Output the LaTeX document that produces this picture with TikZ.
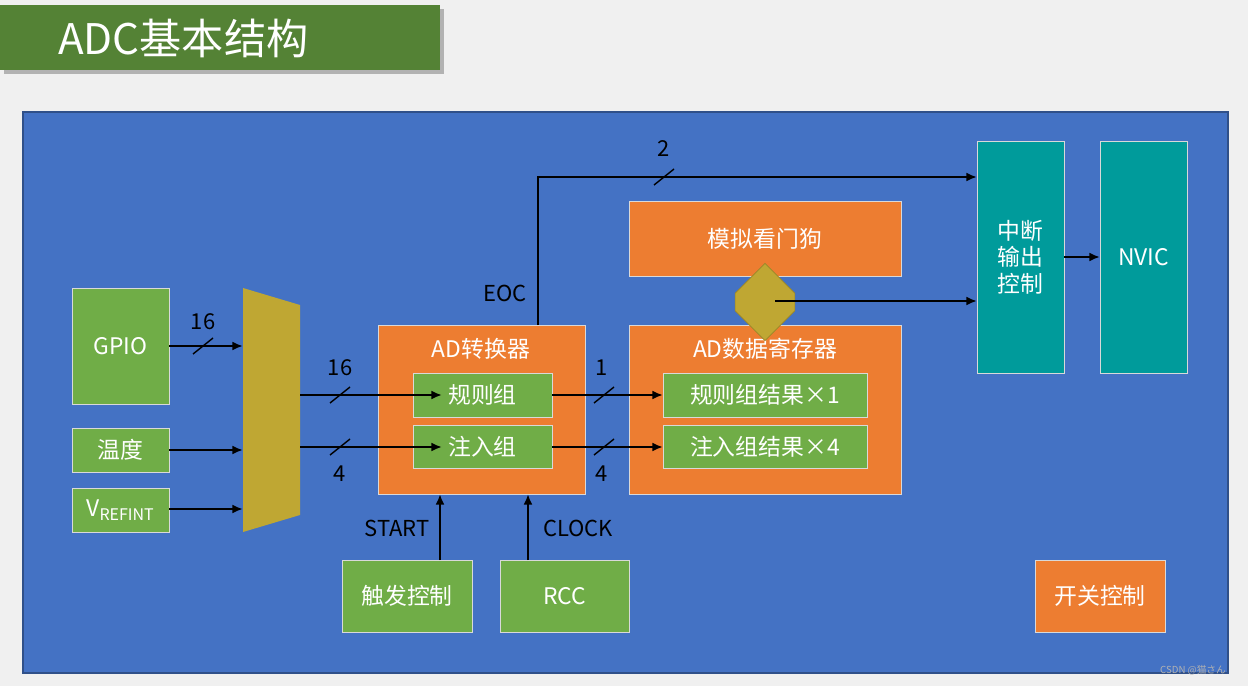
\documentclass[tikz,border=0pt]{standalone}
\usepackage{fontspec}
\setmainfont{Noto Sans CJK SC}
\usetikzlibrary{arrows.meta,shapes.arrows}
\definecolor{bg}{HTML}{F0F0F0}
\definecolor{panel}{HTML}{4472C4}
\definecolor{gr}{HTML}{70AD47}
\definecolor{dgr}{HTML}{548235}
\definecolor{org}{HTML}{ED7D31}
\definecolor{gold}{HTML}{BFA733}
\definecolor{teal}{HTML}{009B9B}
\begin{document}
\begin{tikzpicture}[x=0.02cm,y=-0.02cm,
 box/.style={draw=white!70!gray,line width=0.4pt,text=white,font=\fontsize{13}{15}\selectfont},
 arr/.style={-{Latex[length=6pt,width=5pt]},line width=1.4pt,black},
 sl/.style={line width=0.8pt},
 lab/.style={font=\fontsize{12.5}{14}\selectfont,text=black}]
\useasboundingbox (0,0) rectangle (1248,686);
\fill[bg] (0,0) rectangle (1248,686);
\fill[gray!60] (4,9) rectangle (444,74);
\fill[dgr] (0,5) rectangle (440,70);
\node[text=white,font=\fontsize{24}{28}\selectfont,anchor=west] (title) at (52,38) {ADC基本结构};
\fill[panel] (23,112) rectangle (1228,673);
\draw[panel!70!black,line width=0.6pt] (23,112) rectangle (1228,673);
% left inputs
\path[box,fill=gr] (72,288) rectangle (169,404) node[midway] (gpio) {GPIO};
\path[box,fill=gr] (72,428) rectangle (169,472) node[midway] (temp) {温度};
\path[box,fill=gr] (72,488) rectangle (169,532) node[midway] (vref) {V\textsubscript{REFINT}};
\fill[gold] (243,288) -- (300,305) -- (300,515) -- (243,532) -- cycle;
\coordinate (m1) at (243,346); \coordinate (m2) at (243,450); \coordinate (m3) at (243,509);
\draw[arr] (169,346) -- (m1);
\draw[arr] (169,450) -- (m2);
\draw[arr] (169,509) -- (m3);
\draw[sl] (193,354) -- (213,338); \node[lab] (n16a) at (203,322) {16};
% AD converter
\path[box,fill=org] (378,325) rectangle (585,494);
\node[text=white,font=\fontsize{13}{15}\selectfont] (adc) at (481,349) {AD转换器};
\path[box,fill=gr] (413,373) rectangle (552,417) node[midway] (reg) {规则组};
\path[box,fill=gr] (413,425) rectangle (552,468) node[midway] (inj) {注入组};
\draw[arr] (300,395) -- (reg.west|-0,395);
\draw[arr] (300,447) -- (inj.west|-0,447);
\draw[sl] (330,403) -- (350,387); \node[lab] (n16b) at (340,368) {16};
\draw[sl] (330,455) -- (350,439); \node[lab] (n4a) at (340,474) {4};
% data register
\path[box,fill=org] (629,325) rectangle (901,494);
\node[text=white,font=\fontsize{13}{15}\selectfont] (dr) at (765,349) {AD数据寄存器};
\path[box,fill=gr] (663,373) rectangle (867,417) node[midway] (rr) {规则组结果×1};
\path[box,fill=gr] (663,425) rectangle (867,468) node[midway] (ir) {注入组结果×4};
\draw[arr] (552,395) -- (663,395);
\draw[arr] (552,447) -- (663,447);
\draw[sl] (594,403) -- (614,387); \node[lab] (n1) at (602,368) {1};
\draw[sl] (594,455) -- (614,439); \node[lab] (n4b) at (602,474) {4};
% watchdog
\path[box,fill=org] (629,201) rectangle (901,276) node[midway] (wd) {模拟看门狗};
\node[double arrow,shape border rotate=90,fill=gold,draw=gold!80!black,minimum width=34pt,double arrow head extend=0pt,minimum height=44,inner sep=2pt] (da) at (765,302) {};
% interrupt
\path[box,fill=teal] (977,141) rectangle (1064,373) node[midway,align=center] (irq) {中断\\输出\\控制};
\path[box,fill=teal] (1100,141) rectangle (1187,373) node[midway] (nvic) {NVIC};
\draw[arr] (1064,257) -- (1100,257);
\draw[arr] (775,301) -- (977,301);
\draw[arr] (538,325) -- (538,177) -- (977,177);
\draw[sl] (654,185) -- (674,169); \node[lab] (n2) at (664,149) {2};
\node[lab] (eoc) at (505,293) {EOC};
% bottom
\path[box,fill=gr] (342,560) rectangle (472,632) node[midway] (trig) {触发控制};
\path[box,fill=gr] (500,560) rectangle (629,632) node[midway] (rcc) {RCC};
\draw[arr] (440,560) -- (440,494);
\draw[arr] (528,560) -- (528,494);
\node[lab] (start) at (397,528) {START};
\node[lab] (clock) at (578,528) {CLOCK};
\path[box,fill=org] (1035,560) rectangle (1165,632) node[midway] (sw) {开关控制};
\node[text=gray!60,font=\fontsize{5.5}{6}\selectfont,anchor=east] (wm) at (1232,670) {CSDN @猫さん};
\end{tikzpicture}
\end{document}
